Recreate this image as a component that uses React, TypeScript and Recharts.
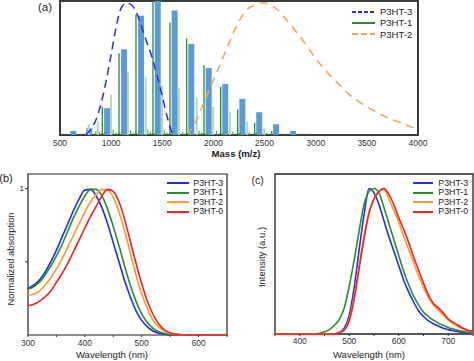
import React from 'react';
import {
  ComposedChart,
  LineChart,
  Line,
  Bar,
  Scatter,
  ErrorBar,
  XAxis,
  YAxis,
  ReferenceArea,
} from 'recharts';

const FONT = '"Liberation Sans", Arial, Helvetica, sans-serif';

// ---- (a) mass spectra ----
const massTicks = [500, 1000, 1500, 2000, 2500, 3000, 3500, 4000];
const barMass = [630, 785, 960, 1126, 1292, 1455, 1620, 1783, 1953, 2115, 2282, 2447, 2612, 2778];
const barValue = [0.03, 0.05, 0.2, 0.64, 0.89, 1.0, 0.93, 0.68, 0.5, 0.38, 0.27, 0.17, 0.08, 0.03];
const spikeMass = [914, 1077, 1243, 1409, 1575, 1738, 1908, 2071, 2237, 2403, 2570];
const spikeValue = [0.21, 0.61, 0.9, 1.0, 0.84, 0.72, 0.52, 0.36, 0.19, 0.09, 0.03];
const sideMass = [780, 870, 999, 1164, 1338, 1498, 1663, 1836, 1998, 2162, 2330, 2495];
const sideValue = [0.08, 0.1, 0.3, 0.47, 0.43, 0.37, 0.35, 0.28, 0.21, 0.17, 0.1, 0.05];
const noiseMass = [700, 760, 850, 885, 940, 1020, 1050, 1110, 1190, 1215, 1270, 1360, 1385, 1440, 1520, 1545, 1600, 1700, 1760, 1860, 1885, 1940, 2030, 2100, 2190, 2260, 2350, 2420, 2520, 2600, 2700, 2850, 2950];
const noiseValue = [0.01, 0.015, 0.03, 0.02, 0.025, 0.04, 0.02, 0.03, 0.035, 0.02, 0.03, 0.04, 0.025, 0.03, 0.035, 0.02, 0.03, 0.025, 0.02, 0.03, 0.02, 0.025, 0.03, 0.02, 0.025, 0.02, 0.02, 0.015, 0.015, 0.01, 0.01, 0.01, 0.01];
const fit3Mass = [750, 800, 850, 900, 950, 1000, 1050, 1100, 1150, 1200, 1250, 1300, 1350, 1400, 1450, 1500, 1550, 1580, 1600];
const fit3Value = [0, 0.04, 0.11, 0.23, 0.4, 0.6, 0.81, 0.95, 0.985, 0.97, 0.91, 0.8, 0.69, 0.58, 0.44, 0.29, 0.13, 0.05, 0];
const fit2Mass = [1740, 1800, 1850, 1900, 1950, 2000, 2050, 2100, 2150, 2200, 2250, 2300, 2350, 2400, 2450, 2500, 2550, 2600, 2650, 2700, 2750, 2800, 2900, 3000, 3100, 3200, 3300, 3400, 3500, 3600, 3700, 3800, 3900, 4000];
const fit2Value = [0, 0.06, 0.14, 0.23, 0.32, 0.41, 0.5, 0.59, 0.68, 0.77, 0.85, 0.91, 0.95, 0.97, 0.985, 0.985, 0.975, 0.95, 0.92, 0.87, 0.83, 0.78, 0.68, 0.57, 0.48, 0.4, 0.32, 0.26, 0.21, 0.17, 0.13, 0.1, 0.07, 0.04];

// ---- (b) absorption ----
const absWl = [300, 310, 320, 330, 340, 350, 360, 370, 380, 390, 400, 410, 420, 430, 440, 450, 460, 470, 480, 490, 500, 510, 520, 530, 540, 550, 560, 570, 580, 590, 600, 610, 620, 630, 640, 650];
const abs3 = [0.32, 0.34, 0.375, 0.43, 0.5, 0.58, 0.67, 0.76, 0.85, 0.93, 0.99, 0.995, 0.95, 0.87, 0.76, 0.63, 0.5, 0.37, 0.26, 0.165, 0.1, 0.055, 0.027, 0.012, 0.005, 0.002, 0, 0, 0, 0, 0, 0, 0, 0, 0, 0];
const abs1 = [0.315, 0.33, 0.36, 0.41, 0.47, 0.54, 0.62, 0.71, 0.8, 0.88, 0.95, 0.995, 0.995, 0.95, 0.86, 0.74, 0.61, 0.47, 0.34, 0.23, 0.145, 0.085, 0.045, 0.022, 0.01, 0.004, 0.001, 0, 0, 0, 0, 0, 0, 0, 0, 0];
const abs2 = [0.27, 0.28, 0.3, 0.34, 0.39, 0.45, 0.52, 0.6, 0.68, 0.76, 0.84, 0.91, 0.96, 0.995, 0.99, 0.94, 0.84, 0.71, 0.56, 0.41, 0.28, 0.18, 0.1, 0.055, 0.027, 0.012, 0.005, 0.002, 0, 0, 0, 0, 0, 0, 0, 0];
const abs0 = [0.2, 0.21, 0.23, 0.26, 0.3, 0.36, 0.42, 0.49, 0.57, 0.65, 0.73, 0.81, 0.88, 0.95, 0.995, 0.98, 0.91, 0.79, 0.64, 0.49, 0.35, 0.23, 0.14, 0.075, 0.035, 0.015, 0.006, 0.002, 0, 0, 0, 0, 0, 0, 0, 0];
const absTicks = [300, 350, 400, 450, 500, 550, 600, 650];

// ---- (c) emission ----
const emWl = [350, 360, 370, 380, 390, 400, 410, 420, 430, 440, 450, 460, 470, 480, 490, 500, 510, 520, 530, 540, 550, 560, 570, 580, 590, 600, 610, 620, 630, 640, 650, 660, 670, 680, 690, 700, 710, 720, 730, 740, 750];
const em3 = [0, 0, 0, 0, 0, 0, 0, 0, 0, 0, 0, 0, 0, 0.01, 0.04, 0.13, 0.32, 0.58, 0.82, 1.0, 0.97, 0.89, 0.78, 0.67, 0.57, 0.47, 0.37, 0.29, 0.22, 0.16, 0.12, 0.09, 0.07, 0.055, 0.04, 0.03, 0.022, 0.016, 0.011, 0.008, 0.005];
const em1 = [0, 0, 0, 0, 0, 0, 0, 0, 0, 0.005, 0.015, 0.03, 0.06, 0.1, 0.18, 0.33, 0.51, 0.71, 0.89, 0.98, 1.0, 0.97, 0.87, 0.76, 0.65, 0.54, 0.43, 0.34, 0.26, 0.2, 0.15, 0.12, 0.095, 0.075, 0.06, 0.045, 0.035, 0.025, 0.018, 0.012, 0.008];
const em2 = [0, 0, 0, 0, 0, 0, 0, 0, 0, 0, 0, 0, 0, 0.01, 0.03, 0.1, 0.26, 0.47, 0.68, 0.84, 0.93, 0.98, 0.995, 0.93, 0.85, 0.77, 0.67, 0.58, 0.49, 0.4, 0.32, 0.25, 0.2, 0.165, 0.13, 0.095, 0.07, 0.05, 0.035, 0.022, 0.015];
const em0 = [0, 0, 0, 0, 0, 0, 0, 0, 0, 0, 0, 0, 0, 0.01, 0.03, 0.09, 0.24, 0.45, 0.66, 0.83, 0.93, 0.98, 1.0, 0.96, 0.89, 0.8, 0.72, 0.63, 0.53, 0.44, 0.35, 0.27, 0.21, 0.18, 0.145, 0.105, 0.08, 0.06, 0.04, 0.025, 0.018];
const emTicks = [350, 400, 450, 500, 550, 600, 650, 700, 750];

const C3 = '#1f2fe6';
const C1 = '#2a8c2a';
const C2 = '#ff9a2e';
const C0 = '#ee2222';

const seriesNames = ['P3HT-3', 'P3HT-1', 'P3HT-2', 'P3HT-0'];
const seriesColors = [C3, C1, C2, C0];

const barRows = barMass.map((m, i) => ({ m, h: barValue[i] }));
const spikeRows = spikeMass.map((m, i) => ({ m, y: spikeValue[i] / 2, err: spikeValue[i] / 2 }));
const sideRows = sideMass.map((m, i) => ({ m, y: sideValue[i] / 2, err: sideValue[i] / 2 }));
const noiseRows = noiseMass.map((m, i) => ({ m, y: noiseValue[i] / 2, err: noiseValue[i] / 2 }));
const baseRows = spikeMass.slice(0, 10).map((m) => ({ m, y: 0 }));
const fit3Rows = fit3Mass.map((m, i) => ({ m, v: fit3Value[i] }));
const fit2Rows = fit2Mass.map((m, i) => ({ m, v: fit2Value[i] }));

const absRows = absWl.map((wl, i) => ({ wl, s3: abs3[i], s1: abs1[i], s2: abs2[i], s0: abs0[i] }));
const emRows = emWl.map((wl, i) => ({ wl, s3: em3[i], s1: em1[i], s2: em2[i], s0: em0[i] }));

const noShape = () => <g />;
const dotShape = (p: any) => <circle cx={p.cx} cy={p.cy} r={1.8} fill="#1e7a1e" />;
const hundreds = (v: number) => (v % 100 === 0 && v > 300 - 1 && v < 701 ? String(v) : '');

type LegendItem = { name: string; color: string; dash?: string };

const LegendBox = ({ items, x, y, step, lineLen, gap, size }: {
  items: LegendItem[]; x: number; y: number; step: number; lineLen: number; gap: number; size: number;
}) => (
  <>
    {items.map((it, i) => (
      <div
        key={it.name}
        style={{
          position: 'absolute', left: x, top: y + i * step - 6, height: 12,
          display: 'flex', alignItems: 'center', whiteSpace: 'nowrap',
        }}
      >
        <svg width={lineLen} height={4} style={{ display: 'block' }}>
          <line x1={0} y1={2} x2={lineLen} y2={2} stroke={it.color} strokeWidth={2} strokeDasharray={it.dash} />
        </svg>
        <span style={{ marginLeft: gap, fontSize: size, color: '#222', lineHeight: 1 }}>{it.name}</span>
      </div>
    ))}
  </>
);

const Label = ({ text, x, y, size, bold, rotate }: {
  text: string; x: number; y: number; size: number; bold?: boolean; rotate?: boolean;
}) => (
  <div
    style={{
      position: 'absolute', left: x, top: y, fontSize: size, lineHeight: 1,
      fontWeight: bold ? 'bold' : 'normal', color: '#222', whiteSpace: 'nowrap',
      transform: `translate(-50%, -50%)${rotate ? ' rotate(-90deg)' : ''}`,
    }}
  >
    {text}
  </div>
);

const ChartA = () => (
  <ComposedChart width={474} height={160} data={barRows} margin={{ top: 1, right: 56, bottom: 0, left: 60 }}>
    <XAxis
      dataKey="m" type="number" domain={[500, 4000]} ticks={massTicks} interval={0} height={25}
      tickLine={false} axisLine={false} tickSize={3} tickMargin={2}
      tick={{ fontSize: 8.5, fill: '#333' }} allowDataOverflow
    />
    <XAxis xAxisId="bars" dataKey="m" type="number" domain={[500, 4000]} hide allowDataOverflow />
    <YAxis dataKey="y" type="number" domain={[0, 1]} hide allowDataOverflow />
    <Bar xAxisId="bars" dataKey="h" fill="#5b9bd5" barSize={6} isAnimationActive={false} />
    <Scatter data={noiseRows} dataKey="y" shape={noShape} isAnimationActive={false}>
      <ErrorBar dataKey="err" direction="y" width={0} stroke="#3f953f" strokeWidth={1} isAnimationActive={false} />
    </Scatter>
    <Scatter data={sideRows} dataKey="y" shape={noShape} isAnimationActive={false}>
      <ErrorBar dataKey="err" direction="y" width={0} stroke="#b4d8b4" strokeWidth={2} isAnimationActive={false} />
    </Scatter>
    <Scatter data={spikeRows} dataKey="y" shape={noShape} isAnimationActive={false}>
      <ErrorBar dataKey="err" direction="y" width={0} stroke={C1} strokeWidth={1.3} isAnimationActive={false} />
    </Scatter>
    <Scatter data={baseRows} dataKey="y" shape={dotShape} isAnimationActive={false} />
    <Line data={fit3Rows} dataKey="v" type="monotone" stroke="#2a2aee" strokeWidth={1.5}
      strokeDasharray="8 5" dot={false} isAnimationActive={false} />
    <Line data={fit2Rows} dataKey="v" type="monotone" stroke="#f3a25a" strokeWidth={1.5}
      strokeDasharray="8 6" dot={false} isAnimationActive={false} />
    <ReferenceArea x1={500} x2={4000} y1={0} y2={1} fill="none" stroke="#3a3a3a" strokeWidth={2} />
  </ComposedChart>
);

const spectrumLines = (width: number) =>
  ['s3', 's1', 's2', 's0'].map((k, i) => (
    <Line key={k} dataKey={k} type="monotone" stroke={seriesColors[i]} strokeWidth={width}
      dot={false} isAnimationActive={false} />
  ));

const ChartB = () => (
  <LineChart width={234} height={201} data={absRows} margin={{ top: 14, right: 7, bottom: 0, left: 0 }}>
    <XAxis
      dataKey="wl" type="number" domain={[300, 650]} ticks={absTicks} interval={0} height={26}
      axisLine={false} tickSize={2} tickMargin={2.5} tickLine={{ stroke: '#333' }}
      tick={{ fontSize: 8.5, fill: '#333' }} tickFormatter={hundreds}
    />
    <YAxis
      type="number" domain={[0, 1.1]} ticks={[0.5, 1]} width={28} axisLine={false}
      tickSize={3} tickMargin={1} tickLine={{ stroke: '#333' }}
      tick={{ fontSize: 8, fill: '#222' }} tickFormatter={(v: number) => (v === 1 ? '1' : '')}
    />
    {spectrumLines(1.6)}
    <ReferenceArea x1={300} x2={650} y1={0} y2={1.1} fill="none" stroke="#222" strokeWidth={1.2} />
  </LineChart>
);

const ChartC = () => (
  <LineChart width={240} height={201} data={emRows} margin={{ top: 14, right: 1, bottom: 0, left: 41 }}>
    <XAxis
      dataKey="wl" type="number" domain={[350, 750]} ticks={emTicks} interval={0} height={27}
      axisLine={false} tickSize={2} tickMargin={1.5} tickLine={{ stroke: '#333' }}
      tick={{ fontSize: 8.5, fill: '#333' }} tickFormatter={(v: number) => (v % 100 === 0 && v < 750 ? String(v) : '')}
    />
    <YAxis type="number" domain={[0, 1.1]} hide />
    {spectrumLines(1.6)}
    <ReferenceArea x1={350} x2={750} y1={0} y2={1.1} fill="none" stroke="#222" strokeWidth={1.3} />
  </LineChart>
);

const legendA: LegendItem[] = [
  { name: 'P3HT-3', color: '#2a2aee', dash: '4 2' },
  { name: 'P3HT-1', color: C1 },
  { name: 'P3HT-2', color: '#f3a25a', dash: '6 3' },
];
const legendBC: LegendItem[] = seriesNames.map((name, i) => ({ name, color: seriesColors[i] }));

export default function App() {
  return (
    <div
      style={{
        position: 'absolute', left: 0, top: 0, width: 474, height: 361,
        background: '#fff', fontFamily: FONT, overflow: 'hidden',
      }}
    >
      <div style={{ position: 'absolute', left: 0, top: 0 }}>
        <ChartA />
      </div>
      <div style={{ position: 'absolute', left: 0, top: 160 }}>
        <ChartB />
      </div>
      <div style={{ position: 'absolute', left: 234, top: 160 }}>
        <ChartC />
      </div>

      <Label text="(a)" x={45} y={8} size={11.5} />
      <Label text="Mass (m/z)" x={236} y={154} size={9.6} bold />
      <LegendBox items={legendA} x={352} y={11.7} step={11.3} lineLen={23} gap={5} size={9.5} />

      <Label text="(b)" x={6} y={178} size={11} />
      <Label text="Normalized absorption" x={11.7} y={259} size={9.3} rotate />
      <Label text="Wavelength (nm)" x={112} y={354.5} size={9.5} />
      <LegendBox items={legendBC} x={167.3} y={183.3} step={9.5} lineLen={22} gap={4} size={8.8} />

      <Label text="(c)" x={257.7} y={180} size={10.5} />
      <Label text="Intensity (a.u.)" x={262} y={257} size={9.5} rotate />
      <Label text="Wavelength (nm)" x={369} y={354.5} size={9.5} />
      <LegendBox items={legendBC} x={413.3} y={183.3} step={9.5} lineLen={20} gap={5} size={8.8} />
    </div>
  );
}
